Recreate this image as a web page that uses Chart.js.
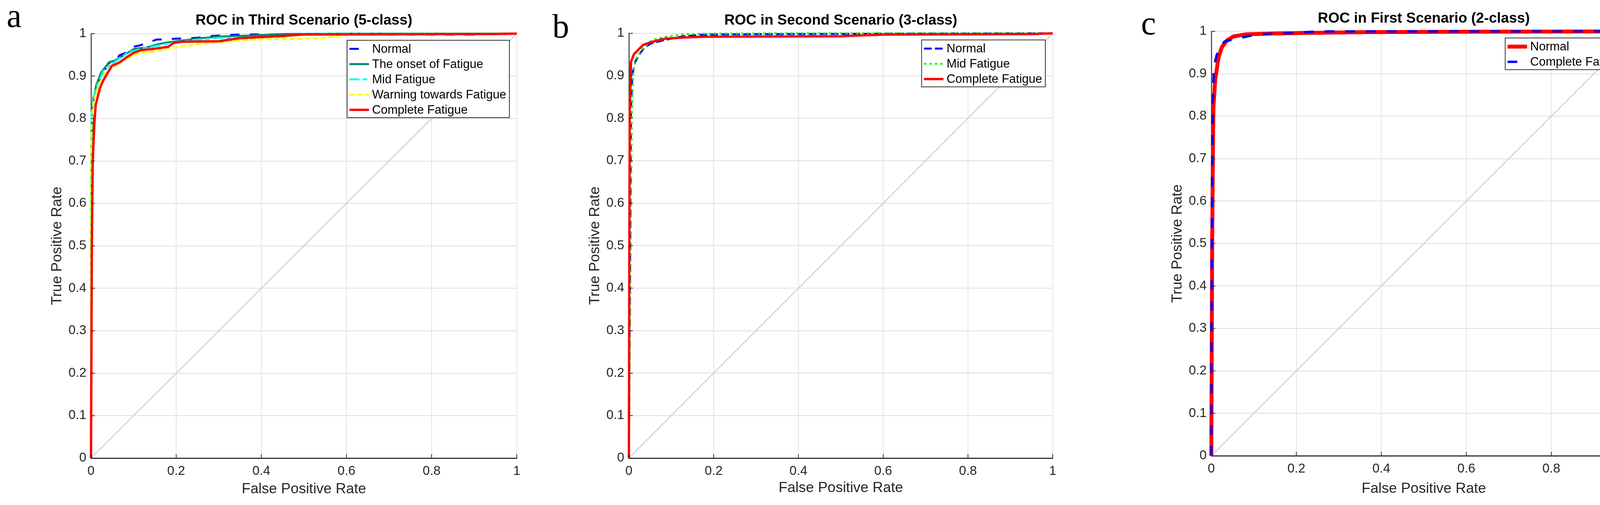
<!DOCTYPE html>
<html>
<head>
<meta charset="utf-8">
<script src="https://cdn.jsdelivr.net/npm/chart.js@4.4.0/dist/chart.umd.min.js"></script>
<style>
  html, body { margin: 0; padding: 0; background: #fff; }
  body { width: 4217px; height: 1292px; position: relative; overflow: hidden; }
  canvas { position: absolute; top: 0; }
  .tag { position: absolute; font-family: "Liberation Serif", "Times New Roman", serif; font-size: 86px; line-height: 86px; color: #000; }
</style>
</head>
<body>
<div class="tag" style="left:17px; top:-3px;">a</div>
<div class="tag" style="left:1414px; top:24px;">b</div>
<div class="tag" style="left:2921px; top:16px;">c</div>
<canvas id="chartA" width="1380" height="1292" style="left:0px"></canvas>
<canvas id="chartB" width="1420" height="1292" style="left:1380px"></canvas>
<canvas id="chartC" width="1417" height="1292" style="left:2800px"></canvas>
<script>
// tick labels
const xTickLabels = ['0', '0.2', '0.4', '0.6', '0.8', '1'];
const yTickLabels = ['0', '0.1', '0.2', '0.3', '0.4', '0.5', '0.6', '0.7', '0.8', '0.9', '1'];
const chanceLine = [0, 1];

// panel a - third scenario (5 classes)
const aNormalFpr = [0, 0.001, 0.003, 0.006, 0.012, 0.021, 0.03, 0.04, 0.052, 0.067, 0.083, 0.098, 0.114, 0.135, 0.154, 0.178, 0.2, 0.224, 0.249, 0.274, 0.295, 0.332, 0.37, 0.9, 1];
const aNormalTpr = [0, 0.6, 0.78, 0.853, 0.875, 0.893, 0.91, 0.93, 0.932, 0.949, 0.955, 0.969, 0.972, 0.979, 0.986, 0.987, 0.988, 0.989, 0.99, 0.994, 0.995, 0.997, 0.998, 0.998, 1];
const aOnsetFpr = [0, 0.001, 0.002, 0.003, 0.012, 0.024, 0.043, 0.055, 0.077, 0.101, 0.129, 0.157, 0.178, 0.209, 0.255, 0.301, 0.363, 0.455, 0.6, 1];
const aOnsetTpr = [0, 0.6, 0.75, 0.825, 0.878, 0.909, 0.933, 0.936, 0.949, 0.964, 0.967, 0.975, 0.979, 0.983, 0.989, 0.993, 0.995, 0.999, 1, 1];
const aMidFpr = [0, 0, 0.001, 0.012, 0.03, 0.055, 0.086, 0.117, 0.147, 0.178, 0.209, 0.255, 0.301, 0.394, 0.455, 0.5, 0.75, 1];
const aMidTpr = [0, 0.62, 0.81, 0.872, 0.915, 0.933, 0.955, 0.964, 0.97, 0.976, 0.981, 0.986, 0.99, 0.991, 0.993, 0.999, 1, 1];
const aWarningFpr = [0, 0, 0.001, 0.006, 0.018, 0.034, 0.052, 0.08, 0.117, 0.154, 0.194, 0.234, 0.255, 0.317, 0.378, 0.455, 0.54, 0.6, 0.7, 1];
const aWarningTpr = [0, 0.6, 0.78, 0.838, 0.881, 0.909, 0.921, 0.939, 0.955, 0.959, 0.967, 0.972, 0.976, 0.981, 0.986, 0.987, 0.989, 0.997, 0.999, 1];
const aCompleteFpr = [0, 0.002, 0.004, 0.008, 0.011, 0.021, 0.029, 0.04, 0.049, 0.067, 0.083, 0.101, 0.117, 0.147, 0.181, 0.194, 0.215, 0.301, 0.347, 0.455, 0.5, 0.95, 1];
const aCompleteTpr = [0, 0.5, 0.7, 0.79, 0.832, 0.872, 0.89, 0.909, 0.924, 0.932, 0.944, 0.955, 0.961, 0.964, 0.969, 0.978, 0.981, 0.982, 0.989, 0.995, 0.998, 0.999, 1];

// panel b - second scenario (3 classes)
const bNormalFpr = [0, 0.003, 0.005, 0.008, 0.015, 0.025, 0.037, 0.052, 0.083, 0.129, 0.175, 0.3, 0.6, 1];
const bNormalTpr = [0, 0.5, 0.82, 0.902, 0.933, 0.951, 0.967, 0.976, 0.984, 0.993, 0.997, 0.998, 0.999, 1];
const bMidFpr = [0, 0.004, 0.007, 0.011, 0.018, 0.03, 0.055, 0.083, 0.129, 0.175, 0.4, 1];
const bMidTpr = [0, 0.5, 0.82, 0.917, 0.942, 0.961, 0.984, 0.991, 0.998, 0.999, 1, 1];
const bCompleteFpr = [0, 0.001, 0.002, 0.005, 0.012, 0.025, 0.034, 0.052, 0.083, 0.129, 0.175, 0.5, 0.6, 0.95, 1];
const bCompleteTpr = [0, 0.5, 0.82, 0.933, 0.951, 0.964, 0.973, 0.979, 0.987, 0.99, 0.992, 0.993, 0.997, 0.998, 1];

// panel c - first scenario (2 classes)
const cNormalFpr = [0, 0.002, 0.004, 0.005, 0.009, 0.017, 0.025, 0.037, 0.052, 0.083, 0.145, 0.207, 0.361, 0.6, 1];
const cNormalTpr = [0, 0.5, 0.75, 0.823, 0.885, 0.939, 0.963, 0.979, 0.988, 0.993, 0.995, 0.996, 0.998, 0.999, 1];
const cCompleteFpr = [0, 0.001, 0.003, 0.006, 0.012, 0.02, 0.031, 0.052, 0.089, 0.139, 0.188, 0.238, 0.284, 1];
const cCompleteTpr = [0, 0.5, 0.823, 0.917, 0.942, 0.963, 0.976, 0.981, 0.989, 0.995, 0.996, 0.999, 1, 1];

Chart.defaults.font.family = '"Liberation Sans", Arial, Helvetica, sans-serif';

const toPoints = (xs, ys) => xs.map((x, i) => ({ x: x, y: ys[i] }));

// inward tick marks and a boxed legend inside the axes, like MATLAB draws them
const matlabLook = {
  id: 'matlabLook',
  afterDatasetsDraw(chart) {
    const ctx = chart.ctx;
    const ca = chart.chartArea;
    const xs = chart.scales.x, ys = chart.scales.y;
    ctx.save();
    ctx.strokeStyle = '#333';
    ctx.lineWidth = 2;
    ctx.beginPath();
    xs.ticks.forEach(t => {
      const px = xs.getPixelForValue(t.value);
      ctx.moveTo(px, ca.bottom);
      ctx.lineTo(px, ca.bottom - 10);
    });
    ys.ticks.forEach(t => {
      const py = ys.getPixelForValue(t.value);
      ctx.moveTo(ca.left, py);
      ctx.lineTo(ca.left + 10, py);
    });
    ctx.stroke();

    const items = chart.data.datasets.filter(d => d.inLegend !== false);
    ctx.font = '31px "Liberation Sans", Arial, sans-serif';
    const textW = Math.max(...items.map(d => ctx.measureText(d.label).width));
    const w = 64 + textW + 8;
    const h = items.length * 39 + 3;
    const bx = ca.right - 19 - w;
    const by = ca.top + 17;
    ctx.fillStyle = '#fff';
    ctx.fillRect(bx, by, w, h);
    ctx.strokeStyle = '#333';
    ctx.lineWidth = 2;
    ctx.strokeRect(bx, by, w, h);
    items.forEach((d, i) => {
      const cy = by + 22 + i * 39;
      ctx.strokeStyle = d.borderColor;
      ctx.lineWidth = d.borderWidth;
      ctx.lineCap = 'butt';
      ctx.setLineDash(d.borderDash || []);
      ctx.beginPath();
      ctx.moveTo(bx + 6, cy);
      ctx.lineTo(bx + 56, cy);
      ctx.stroke();
      ctx.setLineDash([]);
      ctx.fillStyle = '#000';
      ctx.textAlign = 'left';
      ctx.textBaseline = 'middle';
      ctx.fillText(d.label, bx + 64, cy + 1);
    });
    ctx.restore();
  }
};

function makePanel(id, cfg) {
  const n = cfg.series.length;
  const datasets = cfg.series.map((s, i) => ({
    label: s.label,
    data: toPoints(s.fpr, s.tpr),
    borderColor: s.color,
    borderWidth: s.width,
    borderDash: s.dash || [],
    borderCapStyle: 'butt',
    borderJoinStyle: 'round',
    pointRadius: 0,
    tension: 0,
    clip: 12,
    order: n - i  // later series on top, as in MATLAB
  }));
  datasets.push({
    label: 'chance',
    inLegend: false,
    data: toPoints(chanceLine, chanceLine),
    borderColor: '#cdcdcd',
    borderWidth: 2.5,
    pointRadius: 0,
    order: 99
  });

  return new Chart(document.getElementById(id), {
    type: 'line',
    data: { datasets: datasets },
    options: {
      responsive: false,
      animation: false,
      devicePixelRatio: 1,
      layout: { padding: cfg.pad },
      plugins: {
        legend: { display: false },
        tooltip: { enabled: false },
        title: {
          display: true,
          text: cfg.title,
          fullSize: false,
          color: '#000',
          font: { size: 37, weight: 'bold' },
          padding: { top: 0, bottom: cfg.titleGap }
        }
      },
      scales: {
        x: {
          type: 'linear',
          min: 0,
          max: 1,
          afterFit: s => { s.height = cfg.xAxisH; },
          ticks: {
            stepSize: 0.2,
            padding: 14,
            maxRotation: 0,
            autoSkip: false,
            color: '#262626',
            font: { size: 33 },
            callback: (v, i) => xTickLabels[i]
          },
          grid: { color: '#e4e4e4', lineWidth: 2, drawTicks: false },
          border: { color: '#333', width: 3 },
          title: { display: true, text: 'False Positive Rate', color: '#262626', font: { size: 37 }, padding: 0 }
        },
        y: {
          type: 'linear',
          min: 0,
          max: 1,
          afterFit: s => { s.width = 108; },
          ticks: {
            stepSize: 0.1,
            padding: 12,
            autoSkip: false,
            color: '#262626',
            font: { size: 33 },
            callback: (v, i) => yTickLabels[i]
          },
          grid: { color: '#e4e4e4', lineWidth: 2.5, drawTicks: false },
          border: { color: '#555', width: 3 },
          title: { display: true, text: 'True Positive Rate', color: '#262626', font: { size: 37 }, padding: 0 }
        }
      }
    },
    plugins: [matlabLook]
  });
}

makePanel('chartA', {
  title: 'ROC in Third Scenario (5-class)',
  pad: { left: 125, right: 57, top: 30.8, bottom: 18 },
  titleGap: 10.8,
  xAxisH: 102,
  series: [
    { label: 'Normal', fpr: aNormalFpr, tpr: aNormalTpr, color: '#0000ff', width: 5, dash: [24, 26] },
    { label: 'The onset of Fatigue', fpr: aOnsetFpr, tpr: aOnsetTpr, color: '#00876b', width: 5 },
    { label: 'Mid Fatigue', fpr: aMidFpr, tpr: aMidTpr, color: '#00ffff', width: 5, dash: [26, 8, 12, 8] },
    { label: 'Warning towards Fatigue', fpr: aWarningFpr, tpr: aWarningTpr, color: '#ffff00', width: 5, dash: [14, 6] },
    { label: 'Complete Fatigue', fpr: aCompleteFpr, tpr: aCompleteTpr, color: '#ff0000', width: 6 }
  ]
});

makePanel('chartB', {
  title: 'ROC in Second Scenario (3-class)',
  pad: { left: 122, right: 105, top: 30.3, bottom: 21 },
  titleGap: 10.5,
  xAxisH: 99,
  series: [
    { label: 'Normal', fpr: bNormalFpr, tpr: bNormalTpr, color: '#0000ff', width: 5, dash: [20, 8] },
    { label: 'Mid Fatigue', fpr: bMidFpr, tpr: bMidTpr, color: '#00ff00', width: 5, dash: [6, 8] },
    { label: 'Complete Fatigue', fpr: bCompleteFpr, tpr: bCompleteTpr, color: '#ff0000', width: 6 }
  ]
});

makePanel('chartC', {
  title: 'ROC in First Scenario (2-class)',
  pad: { left: 193, right: 28, top: 25.8, bottom: 19 },
  titleGap: 10,
  xAxisH: 107,
  series: [
    { label: 'Normal', fpr: cNormalFpr, tpr: cNormalTpr, color: '#ff0000', width: 10 },
    { label: 'Complete Fatigue', fpr: cCompleteFpr, tpr: cCompleteTpr, color: '#0000ff', width: 6, dash: [25, 28] }
  ]
});
</script>
</body>
</html>
